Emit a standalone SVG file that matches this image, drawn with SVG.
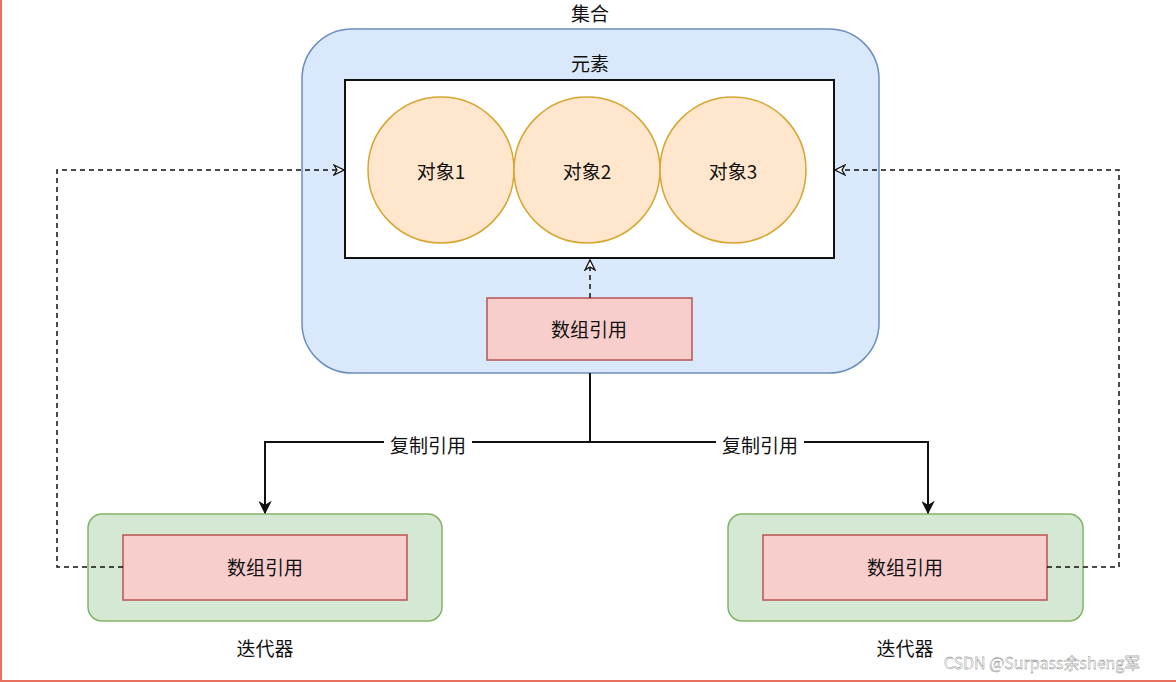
<svg xmlns="http://www.w3.org/2000/svg" width="1176" height="682" viewBox="0 0 1176 682">
<defs>
<style>
text{font-family:"Noto Sans CJK SC","Liberation Sans",sans-serif;font-size:19px;fill:#111;text-anchor:middle;dominant-baseline:central}
.pink{fill:#f8cecc;stroke:#b85450;stroke-width:1.5}
.green{fill:#d5e8d4;stroke:#82b366;stroke-width:1.5}
.circ{fill:#ffe6cc;stroke:#d6a630;stroke-width:1.5}
.dash{fill:none;stroke:#111;stroke-width:1.5;stroke-dasharray:5,4}
.solid{fill:none;stroke:#111;stroke-width:2}
</style>
<marker id="open" viewBox="0 0 12 12" refX="11" refY="6" markerWidth="12" markerHeight="12" markerUnits="userSpaceOnUse" orient="auto">
<path d="M1,1 L11,6 L1,11 L4,6 Z" fill="#fff" stroke="#111" stroke-width="1.3"/>
</marker>
<marker id="solid" viewBox="0 0 12 12" refX="11" refY="6" markerWidth="13" markerHeight="13" markerUnits="userSpaceOnUse" orient="auto">
<path d="M1,1 L11,6 L1,11 L4,6 Z" fill="#111" stroke="#111"/>
</marker>
</defs>
<rect width="1176" height="682" fill="#fff"/>
<line x1="1" y1="0" x2="1" y2="682" stroke="#e8705f" stroke-width="2"/>
<line x1="0" y1="681" x2="1176" y2="681" stroke="#e8705f" stroke-width="2"/>
<g id="collection">
<rect x="302" y="29" width="577" height="344" rx="50" fill="#dae8fc" stroke="#6c8ebf" stroke-width="1.5"/>
<text x="590" y="12">集合</text>
</g>
<g id="elements">
<rect x="345" y="80" width="489" height="178" fill="#fff" stroke="#111" stroke-width="2"/>
<text x="590" y="62">元素</text>
</g>
<g id="obj1"><circle cx="441" cy="170" r="73" class="circ"/><text x="441" y="170">对象1</text></g>
<g id="obj2"><circle cx="587" cy="170" r="73" class="circ"/><text x="587" y="170">对象2</text></g>
<g id="obj3"><circle cx="733" cy="170" r="73" class="circ"/><text x="733" y="170">对象3</text></g>
<g id="arrayref"><rect x="487" y="298" width="205" height="62" class="pink"/><text x="589" y="328">数组引用</text></g>
<g id="iter1">
<rect x="88" y="514" width="354" height="107" rx="14" class="green"/>
<rect x="123" y="535" width="284" height="65" class="pink"/>
<text x="265" y="566">数组引用</text>
<text x="265" y="647">迭代器</text>
</g>
<g id="iter2">
<rect x="728" y="514" width="355" height="107" rx="14" class="green"/>
<rect x="763" y="535" width="284" height="65" class="pink"/>
<text x="905" y="566">数组引用</text>
<text x="905" y="647">迭代器</text>
</g>
<g id="connectors">
<path d="M590,298 V260" class="dash" marker-end="url(#open)"/>
<path d="M123,567 H57 V170 H344" class="dash" marker-end="url(#open)"/>
<path d="M1047,567 H1119 V170 H835" class="dash" marker-end="url(#open)"/>
<path d="M590,373 V442 H265 V513" class="solid" marker-end="url(#solid)"/>
<path d="M590,442 H928 V513" class="solid" marker-end="url(#solid)"/>
<rect x="384" y="432" width="88" height="24" fill="#fff"/>
<text x="428" y="444">复制引用</text>
<rect x="716" y="432" width="88" height="24" fill="#fff"/>
<text x="760" y="444">复制引用</text>
</g>
<text x="1042" y="662" style="font-size:16px;fill:#fff;stroke:#555;stroke-width:0.3">CSDN @Surpass余sheng军</text>
</svg>
